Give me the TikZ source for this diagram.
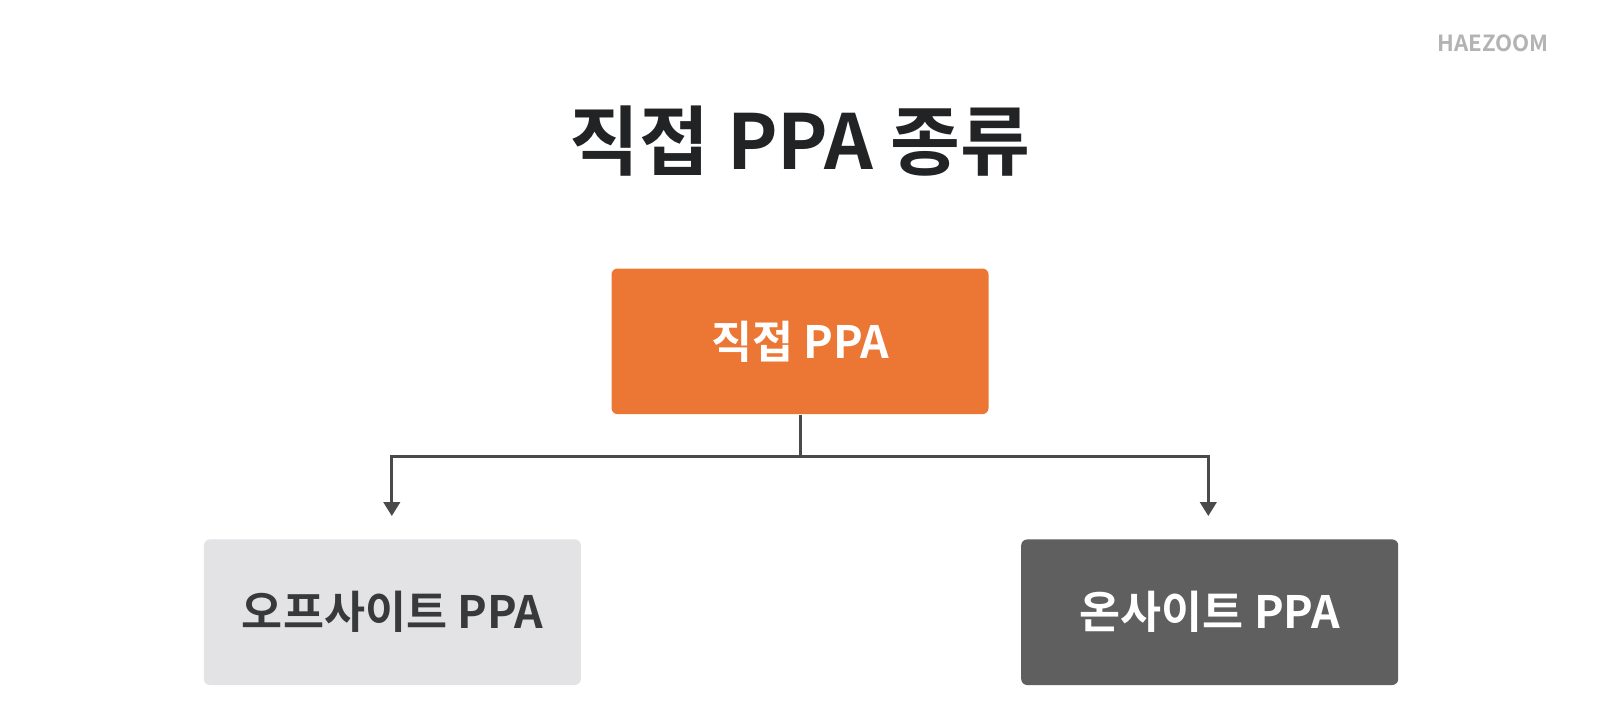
\documentclass[tikz,border=0pt]{standalone}
\usepackage{fontspec}
\setmainfont{Noto Sans CJK KR}[BoldFont={* Bold}]
\usetikzlibrary{arrows.meta}
\definecolor{orangebox}{HTML}{EC7734}
\definecolor{lightbox}{HTML}{E3E3E5}
\definecolor{darkbox}{HTML}{5F5F5F}
\definecolor{linegrey}{HTML}{4A4A4A}
\definecolor{titlecol}{HTML}{222325}
\definecolor{logocol}{HTML}{B3B3B3}
\tikzset{
  catbox/.style={rounded corners=3pt, minimum width=188.5pt, minimum height=72.8pt, inner sep=0pt, font=\bfseries\fontsize{22.3}{26}\selectfont},
  conn/.style={draw=linegrey, line width=1.5pt},
  tip/.style={-{Triangle[width=8.2pt,length=7pt]}}
}
\begin{document}
\begin{tikzpicture}[x=0.5pt,y=-0.5pt]
\useasboundingbox (0,0) rectangle (1600,720);
\fill[white] (0,0) rectangle (1600,720);
\node[text=logocol, font=\bfseries\fontsize{11.1}{14}\selectfont, inner sep=0pt] (logo) at (1493,43) {HAEZOOM};
\node[text=titlecol, font=\bfseries\fontsize{38}{46}\selectfont, inner sep=0pt] (title) at (800,141) {직접 PPA 종류};
\node[catbox, fill=orangebox, text=white] (top) at (800,341.3) {직접 PPA};
\node[catbox, fill=lightbox, text=titlecol!90] (left) at (392.4,612.2) {오프사이트 PPA};
\node[catbox, fill=darkbox, text=white] (right) at (1209.7,612.2) {온사이트 PPA};
\coordinate (j) at (800,456.5);
\coordinate (lt) at (391.8,516);
\coordinate (rt) at (1208.3,516);
\draw[conn] (top.south) -- (j);
\draw[conn, tip] (j) -| (lt);
\draw[conn, tip] (j) -| (rt);
\end{tikzpicture}
\end{document}
